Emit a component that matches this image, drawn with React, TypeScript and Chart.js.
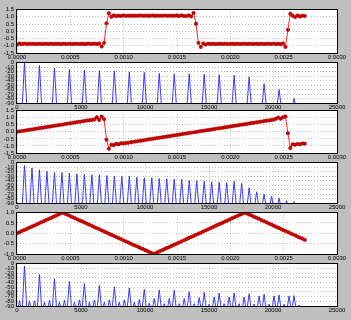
import React, { useEffect, useRef } from 'react';
import { Chart, registerables } from 'chart.js';

Chart.register(...registerables);

const SAMPLE_RATE = 44100;

// time-domain samples (one per 1/44100 s)
const squareWave = [
  -0.92, -0.84, -0.88, -0.85, -0.88, -0.86, -0.87, -0.86, -0.88, -0.86,
  -0.87, -0.87, -0.86, -0.88, -0.86, -0.87, -0.87, -0.86, -0.88, -0.86,
  -0.87, -0.87, -0.86, -0.88, -0.86, -0.87, -0.87, -0.86, -0.88, -0.86,
  -0.86, -0.88, -0.85, -0.88, -0.84,
  -1.05, -0.8, 0.55, 1.25, 1.0, 1.1, 1.05,
  1.08, 1.06, 1.09, 1.07, 1.08, 1.07, 1.08, 1.08, 1.07, 1.09,
  1.07, 1.08, 1.08, 1.07, 1.09, 1.07, 1.08, 1.08, 1.07, 1.09,
  1.07, 1.08, 1.08, 1.07, 1.09, 1.06, 1.1, 1.06,
  1.05, 1.1, 1.03, 1.27, 0.52, -0.8, -1.08, -0.84, -0.92, -0.85,
  -0.88, -0.86, -0.87, -0.87, -0.86, -0.88, -0.86, -0.87, -0.87, -0.86,
  -0.88, -0.86, -0.87, -0.87, -0.86, -0.88, -0.86, -0.87, -0.87, -0.86,
  -0.88, -0.86, -0.87, -0.87, -0.86, -0.88, -0.85, -0.88,
  -0.86, -0.9, -0.84, -1.08, 0.1, 1.22, 1.08, 0.98, 1.1, 1.02, 1.08, 1.06,
];

const sawWave = [
  0.0, 0.03, 0.05, 0.08, 0.11, 0.14, 0.16, 0.19, 0.22, 0.25,
  0.27, 0.3, 0.33, 0.36, 0.38, 0.41, 0.44, 0.47, 0.49, 0.52,
  0.55, 0.58, 0.6, 0.63, 0.66, 0.69, 0.71, 0.74, 0.77, 0.8,
  0.82, 0.84,
  0.87, 1.03, 0.84, 1.08, 0.9, -0.56, -1.2, -0.91, -0.95, -0.85, -0.88, -0.81,
  -0.82, -0.79, -0.77, -0.74, -0.71, -0.69, -0.66, -0.63, -0.61, -0.58,
  -0.55, -0.52, -0.5, -0.47, -0.44, -0.42, -0.39, -0.36, -0.33, -0.31,
  -0.28, -0.25, -0.23, -0.2, -0.17, -0.14, -0.12, -0.09, -0.06, -0.04,
  -0.01, 0.02, 0.05, 0.07, 0.1, 0.13, 0.15, 0.18, 0.21, 0.24,
  0.26, 0.29, 0.32, 0.34, 0.37, 0.4, 0.43, 0.45, 0.48, 0.51,
  0.53, 0.56, 0.59, 0.62, 0.64, 0.67, 0.7, 0.72, 0.75, 0.78,
  0.8, 0.84, 0.85,
  0.92, 1.01, 0.92, 1.03, 1.08, -0.1, -1.15, -0.88, -0.92, -0.86, -0.88, -0.83, -0.84,
];

const triangleWave = [
  0.0, 0.05, 0.11, 0.16, 0.21, 0.27, 0.32, 0.37, 0.42, 0.48,
  0.53, 0.58, 0.64, 0.69, 0.74, 0.8, 0.85, 0.9, 0.96, 0.99,
  0.94, 0.89, 0.83, 0.78, 0.73, 0.67, 0.62, 0.57, 0.52, 0.46,
  0.41, 0.36, 0.3, 0.25, 0.2, 0.14, 0.09, 0.04, -0.02, -0.07,
  -0.12, -0.18, -0.23, -0.28, -0.34, -0.39, -0.44, -0.5, -0.55, -0.6,
  -0.65, -0.71, -0.76, -0.81, -0.87, -0.92, -0.97, -0.98, -0.92, -0.87,
  -0.82, -0.76, -0.71, -0.66, -0.6, -0.55, -0.5, -0.45, -0.39, -0.34,
  -0.29, -0.23, -0.18, -0.13, -0.07, -0.02, 0.03, 0.09, 0.14, 0.19,
  0.25, 0.3, 0.35, 0.41, 0.46, 0.51, 0.57, 0.62, 0.67, 0.73,
  0.78, 0.83, 0.89, 0.94, 0.99, 0.96, 0.91, 0.86, 0.8, 0.75,
  0.7, 0.64, 0.59, 0.54, 0.48, 0.43, 0.38, 0.32, 0.27, 0.22,
  0.16, 0.11, 0.06, 0.0, -0.05, -0.1, -0.16, -0.21, -0.26, -0.32,
];

// spectra: peak frequencies (Hz) and levels (dB)
const oddHarmonicFreqs = [
  585, 1755, 2925, 4095, 5265, 6435, 7605, 8775, 9945, 11115,
  12285, 13455, 14625, 15795, 16965, 18135, 19305, 20475, 21645,
];
const squarePeakDb = [
  0, -6, -12, -15, -17, -18, -19, -21, -22, -24,
  -25, -25, -26, -27, -28, -32, -47, -60, -80,
];

const allHarmonicFreqs = [
  585, 1170, 1755, 2340, 2925, 3510, 4095, 4680, 5265, 5850,
  6435, 7020, 7605, 8190, 8775, 9360, 9945, 10530, 11115, 11700,
  12285, 12870, 13455, 14040, 14625, 15210, 15795, 16380, 16965, 17550,
  18135, 18720, 19305, 19890, 20475, 21060, 21645,
];
const sawPeakDb = [
  -6.5, -12, -16, -19.5, -22, -22, -23, -25, -26, -27,
  -27.5, -29, -30.5, -30.5, -30.5, -32.5, -34, -34, -35.5, -36,
  -37.5, -37.5, -40, -40, -41.5, -43, -43.5, -45, -42, -46.5,
  -56, -65, -70, -75, -79, -85, -87,
];

const trianglePeakDb = [
  -5, -22.7, -32, -38, -42.5, -46, -49.6, -51.8, -54.6, -56,
  -56.7, -59.6, -61, -62.4, -62.4, -63.8, -65, -66.6, -68,
];
const triangleMinorFreqs = [
  195, 975, 1365, 2145, 2535, 3315, 3705, 4485, 4875, 5655,
  6045, 6825, 7215, 7995, 8385, 9165, 9555, 10335, 10725, 11505,
  11895, 12675, 13065, 13845, 14235, 15015, 15405, 16185, 16575, 17355,
  17745, 18525, 18915, 19695, 20085, 20865, 21255, 22035,
];
const triangleMinorDb = [
  -79, -79, -79, -82, -78, -82, -78, -82, -77, -82,
  -77, -82, -77, -82, -77, -82, -76, -84, -74, -85,
  -74, -85, -74, -85, -72, -86, -71, -85, -71, -85,
  -71, -86, -69, -86, -69, -86, -69, -88,
];

const timeTicks = { min: 0, max: 0.003, step: 0.0005 };
const freqTicks = { min: 0, max: 25000, step: 5000 };
const waveTicks = { min: -1.5, max: 1.5, step: 0.5 };
const triTicks = { min: -1, max: 1, step: 0.5 };
const dbTicks = { min: -90, max: 0, step: 10 };

// ---------- drawing ----------
const FONT = "'Liberation Sans', Arial, sans-serif";
const TOP_PAD = 6;
const X_AXIS_H = 12;
const Y_AXIS_W = 17;
const RIGHT_PAD = 14;
const GRID_COLOR = 'rgba(0,0,0,0.25)';
const SPIKE_HALF = 190;
const SPIKE_FLOOR = -104;

const toTimeSeries = (vals: number[]) => vals.map((y, i) => ({ x: i / SAMPLE_RATE, y }));

function toSpikes(freqs: number[], dbs: number[]) {
  const pairs = freqs.map((f, i) => ({ f, d: dbs[i] })).sort((a, b) => a.f - b.f);
  const pts: { x: number; y: number }[] = [];
  pairs.forEach(({ f, d }) => {
    pts.push({ x: f - SPIKE_HALF, y: SPIKE_FLOOR });
    pts.push({ x: f, y: d });
    pts.push({ x: f + SPIKE_HALF, y: SPIKE_FLOOR });
  });
  return pts;
}

const waveStyle = {
  showLine: true,
  borderColor: '#ff2a2a',
  borderWidth: 1,
  pointRadius: 1.7,
  pointBackgroundColor: '#d40000',
  pointBorderColor: '#a00000',
  pointBorderWidth: 0.6,
};
const specStyle = {
  showLine: true,
  borderColor: 'rgba(40,40,255,0.9)',
  borderWidth: 1,
  pointRadius: 0,
};

const framePlugin = {
  id: 'frame',
  beforeDraw(chart: any) {
    const { ctx, chartArea: a } = chart;
    ctx.save();
    ctx.fillStyle = '#ffffff';
    ctx.fillRect(a.left, a.top, a.right - a.left, a.bottom - a.top);
    ctx.restore();
  },
  afterDraw(chart: any) {
    const { ctx, chartArea: a } = chart;
    ctx.save();
    ctx.strokeStyle = '#000';
    ctx.lineWidth = 1;
    ctx.strokeRect(Math.round(a.left) - 0.5, Math.round(a.top) - 0.5, Math.round(a.right - a.left) + 1, Math.round(a.bottom - a.top) + 1);
    ctx.restore();
  },
};

type Ticks = { min: number; max: number; step: number };

function makeScale(t: Ticks, isX: boolean, fmt: (v: number) => string) {
  return {
    type: 'linear',
    position: isX ? 'bottom' : 'left',
    min: t.min,
    max: t.max,
    afterFit: (s: any) => {
      if (isX) s.height = X_AXIS_H;
      else s.width = Y_AXIS_W;
    },
    ticks: {
      stepSize: t.step,
      autoSkip: false,
      maxRotation: 0,
      minRotation: 0,
      padding: isX ? 1 : 3,
      color: '#000',
      font: { family: FONT, size: 6 },
      callback: (v: any) => fmt(Number(v)),
    },
    grid: { color: GRID_COLOR, lineWidth: 1, drawTicks: false },
    border: { display: false, dash: [1, 2] },
  };
}

type PanelSpec = {
  top: number;
  plotH: number;
  datasets: any[];
  x: Ticks;
  y: Ticks;
  xFmt: (v: number) => string;
  yFmt: (v: number) => string;
};

function Panel({ spec }: { spec: PanelSpec }) {
  const ref = useRef<HTMLCanvasElement>(null);
  useEffect(() => {
    const chart = new Chart(ref.current as HTMLCanvasElement, {
      type: 'scatter',
      data: { datasets: spec.datasets },
      options: {
        animation: false,
        responsive: false,
        devicePixelRatio: 1,
        events: [],
        layout: { padding: { top: TOP_PAD, right: RIGHT_PAD, left: 0, bottom: 0 } },
        plugins: { legend: { display: false }, tooltip: { enabled: false } },
        scales: {
          x: makeScale(spec.x, true, spec.xFmt) as any,
          y: makeScale(spec.y, false, spec.yFmt) as any,
        },
      },
      plugins: [framePlugin],
    } as any);
    return () => chart.destroy();
  }, []);
  const h = TOP_PAD + spec.plotH + X_AXIS_H;
  return (
    <canvas
      ref={ref}
      width={351}
      height={h}
      style={{ position: 'absolute', left: 0, top: spec.top - TOP_PAD, width: 351, height: h }}
    />
  );
}

const fmtTime = (v: number) => v.toFixed(4);
const fmtFreq = (v: number) => String(Math.round(v));
const fmt1 = (v: number) => v.toFixed(1);
const fmtDb = (v: number) => String(Math.round(v));

const panels: PanelSpec[] = [
  { top: 9, plotH: 44, datasets: [{ ...waveStyle, data: toTimeSeries(squareWave) }], x: timeTicks, y: waveTicks, xFmt: fmtTime, yFmt: fmt1 },
  { top: 62, plotH: 41, datasets: [{ ...specStyle, data: toSpikes(oddHarmonicFreqs, squarePeakDb) }], x: freqTicks, y: dbTicks, xFmt: fmtFreq, yFmt: fmtDb },
  { top: 110, plotH: 43, datasets: [{ ...waveStyle, data: toTimeSeries(sawWave) }], x: timeTicks, y: waveTicks, xFmt: fmtTime, yFmt: fmt1 },
  { top: 162, plotH: 41, datasets: [{ ...specStyle, data: toSpikes(allHarmonicFreqs, sawPeakDb) }], x: freqTicks, y: dbTicks, xFmt: fmtFreq, yFmt: fmtDb },
  { top: 212, plotH: 42, datasets: [{ ...waveStyle, data: toTimeSeries(triangleWave) }], x: timeTicks, y: triTicks, xFmt: fmtTime, yFmt: fmt1 },
  {
    top: 263, plotH: 43,
    datasets: [{ ...specStyle, data: toSpikes([...oddHarmonicFreqs, ...triangleMinorFreqs], [...trianglePeakDb, ...triangleMinorDb]) }],
    x: freqTicks, y: dbTicks, xFmt: fmtFreq, yFmt: fmtDb,
  },
];

export default function App() {
  return (
    <div style={{ position: 'fixed', left: 0, top: 0, width: 351, height: 320, background: '#bfbfbf', overflow: 'hidden' }}>
      {panels.map((p, i) => (
        <Panel key={i} spec={p} />
      ))}
    </div>
  );
}
